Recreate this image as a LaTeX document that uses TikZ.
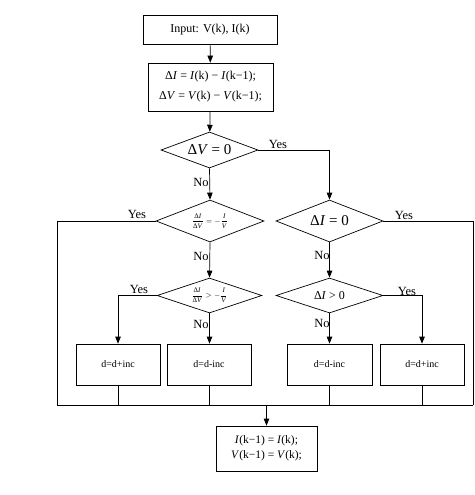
\documentclass[tikz,border=0pt]{standalone}
\usepackage{amsmath}
\usepackage{fontspec}
\setmainfont{Liberation Serif}
\usetikzlibrary{shapes.geometric,arrows.meta}
\begin{document}
\begin{tikzpicture}[x=1pt,y=-1pt,line width=0.7pt,
  box/.style={draw,rectangle,inner sep=0pt,align=center},
  dia/.style={draw,diamond,aspect=3,inner sep=0pt},
  lab/.style={inner sep=0pt,font=\fontsize{12.5}{14}\selectfont},
  arr/.style={-{Triangle[length=7pt,width=5.5pt]}}]
\useasboundingbox (0,0) rectangle (474,495);

\node[box,minimum width=134pt,minimum height=29pt,font=\fontsize{12}{14}\selectfont] (in) at (210,29.5) {Input: V(k), I(k)};
\node[box,minimum width=125pt,minimum height=48pt,font=\fontsize{12}{20}\selectfont] (calc) at (210.5,87) {Δ\textit{I} = \textit{I}(k) − \textit{I}(k−1);\\ Δ\textit{V} = \textit{V}(k) − \textit{V}(k−1);};

\node[dia,minimum width=97pt,minimum height=36pt,font=\fontsize{15}{17}\selectfont] (d1) at (209.5,150) {Δ\textit{V} = 0};
\node[dia,minimum width=108pt,minimum height=42pt,font=\fontsize{7}{8}\selectfont] (d2) at (210,221) {$\dfrac{\text{Δ\textit{I}}}{\text{Δ\textit{V}}} = -\dfrac{\text{\textit{I}}}{\text{\textit{V}}}$};
\node[dia,minimum width=105pt,minimum height=35pt,font=\fontsize{7}{8}\selectfont] (d3) at (209.5,295.5) {$\dfrac{\text{Δ\textit{I}}}{\text{Δ\textit{V}}} > -\dfrac{\text{\textit{I}}}{\text{\textit{V}}}$};
\node[dia,minimum width=107pt,minimum height=42pt,font=\fontsize{15}{17}\selectfont] (d4) at (329.5,221) {Δ\textit{I} = 0};
\node[dia,minimum width=107pt,minimum height=35pt,font=\fontsize{12}{14}\selectfont] (d5) at (329.5,295.5) {Δ\textit{I} > 0};

\node[box,minimum width=84pt,minimum height=41pt,font=\fontsize{10}{12}\selectfont] (A) at (118,364.5) {d=d+inc};
\node[box,minimum width=84pt,minimum height=41pt,font=\fontsize{10}{12}\selectfont] (B) at (209,364.5) {d=d-inc};
\node[box,minimum width=85pt,minimum height=41pt,font=\fontsize{10}{12}\selectfont] (C) at (329.5,364.5) {d=d-inc};
\node[box,minimum width=84pt,minimum height=41pt,font=\fontsize{10}{12}\selectfont] (D) at (422,364.5) {d=d+inc};

\node[box,minimum width=101pt,minimum height=45pt,font=\fontsize{11.5}{15}\selectfont] (F) at (266.5,448.5) {\textit{I}(k−1) = \textit{I}(k);\\ \textit{V}(k−1) = \textit{V}(k);};

\coordinate (bl) at (57,405);
\coordinate (br) at (473,405);

\draw[arr] (in) -- (calc);
\draw[arr] (calc) -- (d1);
\draw[arr] (d1.south) -- (d2.north);
\draw[arr] (d1.east) -| (d4.north);
\draw[arr] (d2.south) -- (d3.north);
\draw[arr] (d4.south) -- (d5.north);
\draw (d2.west) -| (bl) -- (br);
\draw (d4.east) -| (br);
\draw[arr] (d3.west) -| (A.north);
\draw[arr] (d3.south) -- (d3.south |- B.north);
\draw[arr] (d5.south) -- (C.north);
\draw[arr] (d5.east) -| (D.north);
\draw (A.south) -- (A.south |- bl);
\draw (B.south) -- (B.south |- bl);
\draw (C.south) -- (C.south |- bl);
\draw (D.south) -- (D.south |- bl);
\draw[arr] (F.north |- bl) -- (F.north);

\node[lab] (y1) at (278,144) {Yes};
\node[lab] (n1) at (201,182) {No};
\node[lab] (y2) at (137,214) {Yes};
\node[lab] (n2) at (201,256) {No};
\node[lab] (y3) at (139,289) {Yes};
\node[lab] (n3) at (201,324) {No};
\node[lab] (y4) at (404,215) {Yes};
\node[lab] (n4) at (322,255) {No};
\node[lab] (y5) at (407,291) {Yes};
\node[lab] (n5) at (322,323) {No};
\end{tikzpicture}
\end{document}
